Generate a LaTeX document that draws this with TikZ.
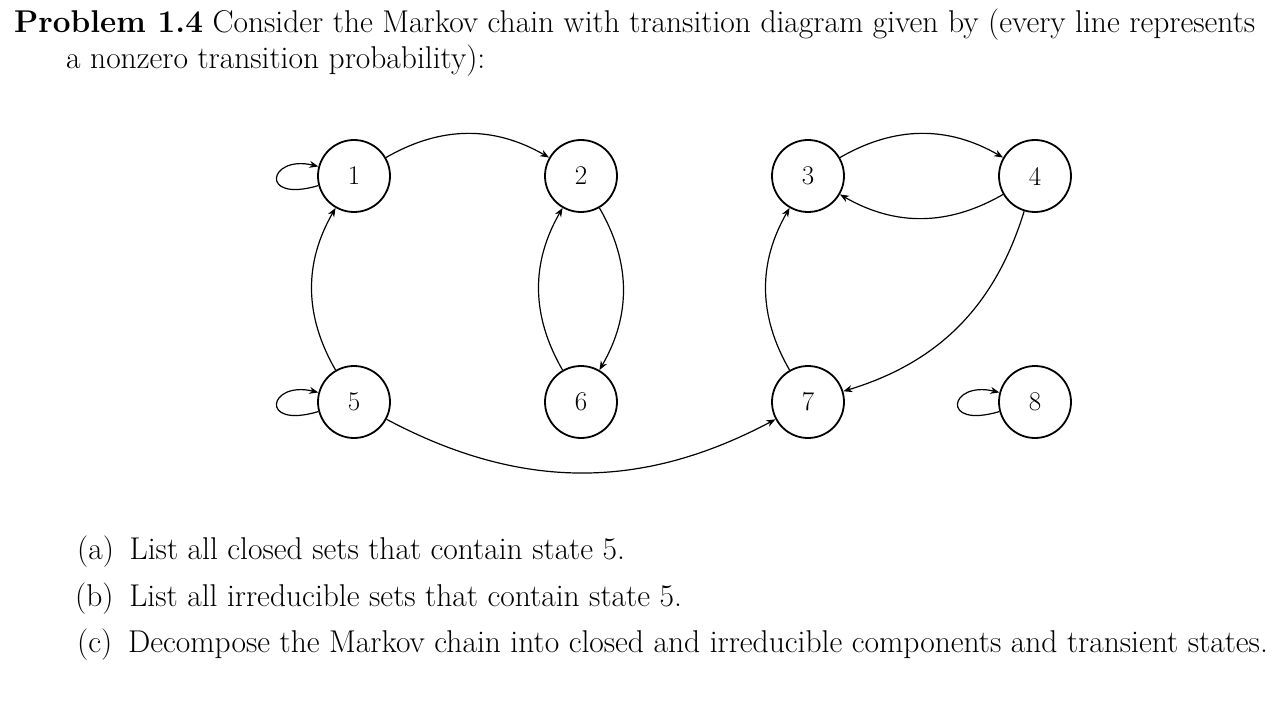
\documentclass[tikz,border=0pt]{standalone}
\usetikzlibrary{arrows.meta}
\begin{document}
\begin{tikzpicture}[x=1pt,y=-1pt,
  st/.style={circle,draw,line width=1.8pt,minimum size=72pt,inner sep=0pt,font=\fontsize{27}{30}\selectfont},
  ar/.style={line width=1.2pt,-{Stealth[length=9pt,width=7pt]}},
  txt/.style={anchor=base west,inner sep=0pt,font=\fontsize{31.5}{36}\selectfont}]
\useasboundingbox (0,0) rectangle (1278,714);
\node[txt] (t1) at (14,33) {\textbf{Problem 1.4} Consider the Markov chain with transition diagram given by (every line represents};
\node[txt] (t2) at (66,69) {a nonzero transition probability):};
\node[st] (n1) at (354,176) {1};
\node[st] (n2) at (581,176) {2};
\node[st] (n3) at (808,176) {3};
\node[st] (n4) at (1035,176) {4};
\node[st] (n5) at (354,402) {5};
\node[st] (n6) at (581,402) {6};
\node[st] (n7) at (808,402) {7};
\node[st] (n8) at (1035,402) {8};
\foreach \n in {n1,n5,n8}
  \draw[ar] (\n.195) .. controls +(-60,18) and +(-50,-12) .. (\n.165);
\draw[ar] (n1) to[bend left=30] (n2);
\draw[ar] (n3) to[bend left=30] (n4);
\draw[ar] (n4) to[bend left=30] (n3);
\draw[ar] (n5) to[bend left=30] (n1);
\draw[ar] (n2) to[bend left=30] (n6);
\draw[ar] (n6) to[bend left=30] (n2);
\draw[ar] (n7) to[bend left=30] (n3);
\draw[ar] (n4) to[bend left=28] (n7);
\draw[ar] (n5) to[bend right=28] (n7);
\node[txt] (a) at (77,559) {(a)\enspace List all closed sets that contain state 5.};
\node[txt] (b) at (75,606) {(b)\enspace List all irreducible sets that contain state 5.};
\node[txt] (c) at (77,652) {(c)\enspace Decompose the Markov chain into closed and irreducible components and transient states.};
\end{tikzpicture}
\end{document}
